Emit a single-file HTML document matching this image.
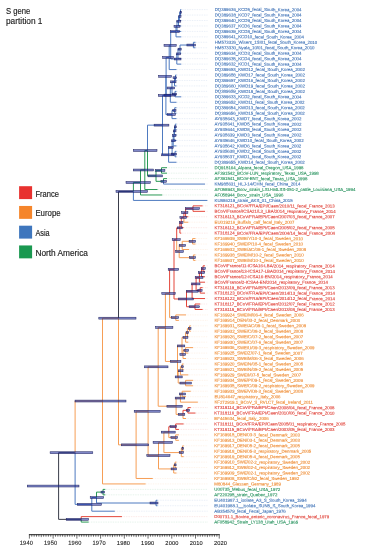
<!DOCTYPE html>
<html lang="en"><head><meta charset="utf-8"><title>S gene partition 1</title>
<style>
html,body{margin:0;padding:0;background:#fff}
body{width:374px;height:550px;overflow:hidden}
svg{display:block;font-family:"Liberation Sans",sans-serif}
</style></head><body>
<svg width="374" height="550" viewBox="0 0 374 550">
<rect width="374" height="550" fill="#fff"/>
<text x="6" y="13.7" font-size="8.3" textLength="24.3" lengthAdjust="spacingAndGlyphs" fill="#222" stroke="#222" stroke-width="0.15">S gene</text>
<text x="6" y="24.3" font-size="8.3" fill="#222" stroke="#222" stroke-width="0.15">partition 1</text>
<g><rect x="19.1" y="186.20" width="13" height="12.9" fill="#e8312f"/><text x="35.4" y="196.60" font-size="8.2" textLength="23.6" lengthAdjust="spacingAndGlyphs" fill="#222" stroke="#222" stroke-width="0.15">France</text><rect x="19.1" y="205.95" width="13" height="12.9" fill="#f5852b"/><text x="35.4" y="216.35" font-size="8.2" textLength="25.3" lengthAdjust="spacingAndGlyphs" fill="#222" stroke="#222" stroke-width="0.15">Europe</text><rect x="19.1" y="225.70" width="13" height="12.9" fill="#3e76bd"/><text x="35.4" y="236.10" font-size="8.2" textLength="14.3" lengthAdjust="spacingAndGlyphs" fill="#222" stroke="#222" stroke-width="0.15">Asia</text><rect x="19.1" y="245.45" width="13" height="12.9" fill="#1a9850"/><text x="35.4" y="255.85" font-size="8.2" textLength="52.6" lengthAdjust="spacingAndGlyphs" fill="#222" stroke="#222" stroke-width="0.15">North America</text></g>
<g fill="none" stroke-width="0.6" stroke-dasharray="0.8 0.9" opacity="0.24"><path d="M181.87 9.60H207.8" stroke="#4e7ac0"/><path d="M181.87 15.05H207.8" stroke="#4e7ac0"/><path d="M181.87 20.51H207.8" stroke="#4e7ac0"/><path d="M181.87 25.96H207.8" stroke="#4e7ac0"/><path d="M181.87 31.41H207.8" stroke="#4e7ac0"/><path d="M181.87 36.86H207.8" stroke="#4e7ac0"/><path d="M196.11 42.31H207.8" stroke="#4e7ac0"/><path d="M196.11 47.77H207.8" stroke="#4e7ac0"/><path d="M181.87 53.22H207.8" stroke="#4e7ac0"/><path d="M181.87 58.67H207.8" stroke="#4e7ac0"/><path d="M181.87 64.12H207.8" stroke="#4e7ac0"/><path d="M177.13 69.57H207.8" stroke="#4e7ac0"/><path d="M177.13 75.03H207.8" stroke="#4e7ac0"/><path d="M177.13 80.48H207.8" stroke="#4e7ac0"/><path d="M177.13 85.93H207.8" stroke="#4e7ac0"/><path d="M177.13 91.38H207.8" stroke="#4e7ac0"/><path d="M181.87 96.83H207.8" stroke="#4e7ac0"/><path d="M177.13 102.29H207.8" stroke="#4e7ac0"/><path d="M177.13 107.74H207.8" stroke="#4e7ac0"/><path d="M177.13 113.19H207.8" stroke="#4e7ac0"/><path d="M177.13 118.64H207.8" stroke="#4e7ac0"/><path d="M177.13 124.09H207.8" stroke="#4e7ac0"/><path d="M177.13 129.55H207.8" stroke="#4e7ac0"/><path d="M177.13 135.00H207.8" stroke="#4e7ac0"/><path d="M177.13 140.45H207.8" stroke="#4e7ac0"/><path d="M177.13 145.90H207.8" stroke="#4e7ac0"/><path d="M177.13 151.35H207.8" stroke="#4e7ac0"/><path d="M177.13 156.81H207.8" stroke="#4e7ac0"/><path d="M177.13 162.26H207.8" stroke="#4e7ac0"/><path d="M167.63 167.71H207.8" stroke="#2a9a55"/><path d="M167.63 173.16H207.8" stroke="#2a9a55"/><path d="M167.63 178.61H207.8" stroke="#2a9a55"/><path d="M205.60 184.07H207.8" stroke="#4e7ac0"/><path d="M158.14 189.52H207.8" stroke="#2a9a55"/><path d="M162.89 194.97H207.8" stroke="#2a9a55"/><path d="M207.98 200.42H207.8" stroke="#4e7ac0"/><path d="M203.23 205.87H207.8" stroke="#e4463a"/><path d="M205.60 211.33H207.8" stroke="#e4463a"/><path d="M188.99 216.78H207.8" stroke="#e4463a"/><path d="M188.99 222.23H207.8" stroke="#f69e56"/><path d="M184.25 227.68H207.8" stroke="#e4463a"/><path d="M181.87 233.13H207.8" stroke="#e4463a"/><path d="M196.11 238.59H207.8" stroke="#f69e56"/><path d="M196.11 244.04H207.8" stroke="#f69e56"/><path d="M189.70 249.49H207.8" stroke="#f69e56"/><path d="M196.11 254.94H207.8" stroke="#f69e56"/><path d="M196.11 260.39H207.8" stroke="#f69e56"/><path d="M205.60 265.85H207.8" stroke="#e4463a"/><path d="M205.60 271.30H207.8" stroke="#e4463a"/><path d="M205.60 276.75H207.8" stroke="#e4463a"/><path d="M205.60 282.20H207.8" stroke="#e4463a"/><path d="M203.23 287.65H207.8" stroke="#e4463a"/><path d="M205.60 293.11H207.8" stroke="#e4463a"/><path d="M205.60 298.56H207.8" stroke="#e4463a"/><path d="M200.86 304.01H207.8" stroke="#e4463a"/><path d="M203.23 309.46H207.8" stroke="#e4463a"/><path d="M186.62 314.91H207.8" stroke="#f69e56"/><path d="M179.50 320.37H207.8" stroke="#f69e56"/><path d="M191.36 325.82H207.8" stroke="#f69e56"/><path d="M191.36 331.27H207.8" stroke="#f69e56"/><path d="M188.99 336.72H207.8" stroke="#f69e56"/><path d="M188.99 342.17H207.8" stroke="#f69e56"/><path d="M193.74 347.63H207.8" stroke="#f69e56"/><path d="M188.99 353.08H207.8" stroke="#f69e56"/><path d="M186.62 358.53H207.8" stroke="#f69e56"/><path d="M184.25 363.98H207.8" stroke="#f69e56"/><path d="M184.25 369.43H207.8" stroke="#f69e56"/><path d="M188.99 374.89H207.8" stroke="#f69e56"/><path d="M193.74 380.34H207.8" stroke="#f69e56"/><path d="M193.74 385.79H207.8" stroke="#f69e56"/><path d="M191.36 391.24H207.8" stroke="#f69e56"/><path d="M186.62 396.69H207.8" stroke="#f69e56"/><path d="M198.48 402.15H207.8" stroke="#f69e56"/><path d="M191.36 407.60H207.8" stroke="#e4463a"/><path d="M196.11 413.05H207.8" stroke="#e4463a"/><path d="M186.62 418.50H207.8" stroke="#f69e56"/><path d="M184.25 423.95H207.8" stroke="#e4463a"/><path d="M179.50 429.41H207.8" stroke="#e4463a"/><path d="M179.50 434.86H207.8" stroke="#f69e56"/><path d="M179.50 440.31H207.8" stroke="#f69e56"/><path d="M184.25 445.76H207.8" stroke="#f69e56"/><path d="M184.25 451.21H207.8" stroke="#f69e56"/><path d="M184.25 456.67H207.8" stroke="#f69e56"/><path d="M177.13 462.12H207.8" stroke="#f69e56"/><path d="M177.13 467.57H207.8" stroke="#f69e56"/><path d="M177.13 473.02H207.8" stroke="#f69e56"/><path d="M153.40 478.47H207.8" stroke="#f69e56"/><path d="M146.28 483.93H207.8" stroke="#f69e56"/><path d="M105.94 489.38H207.8" stroke="#2a9a55"/><path d="M105.94 494.83H207.8" stroke="#2a9a55"/><path d="M158.14 500.28H207.8" stroke="#4e7ac0"/><path d="M158.14 505.73H207.8" stroke="#4e7ac0"/><path d="M115.43 511.19H207.8" stroke="#4e7ac0"/><path d="M122.55 516.64H207.8" stroke="#e4463a"/><path d="M89.32 522.09H207.8" stroke="#2a9a55"/></g>
<g fill="none" stroke-width="1.0" stroke-linejoin="miter"><path d="M58.60 486.04V452.71H75.10" stroke="#3a3d4a"/><path d="M75.10 452.71V401.04H102.50" stroke="#f69e56"/><path d="M102.50 401.04V318.16H118.50" stroke="#f69e56"/><path d="M118.50 318.16V191.46H133.40" stroke="#3a3d4a"/><path d="M133.40 191.46V182.49H140.50" stroke="#2a9a55"/><path d="M140.50 182.49V170.01H144.80" stroke="#2a9a55"/><path d="M144.80 170.01V150.51H147.50" stroke="#2a9a55"/><path d="M147.50 150.51V125.13H162.50" stroke="#4e7ac0"/><path d="M162.50 125.13V95.42H165.90" stroke="#4e7ac0"/><path d="M165.90 95.42V76.28H166.10" stroke="#4e7ac0"/><path d="M166.10 76.28V57.43H169.20" stroke="#4e7ac0"/><path d="M169.20 57.43V45.30H170.70" stroke="#4e7ac0"/><path d="M170.70 45.30V31.58H176.00" stroke="#4e7ac0"/><path d="M176.00 31.58V26.30H177.00" stroke="#4e7ac0"/><path d="M177.00 26.30V21.19H178.50" stroke="#4e7ac0"/><path d="M178.50 21.19V16.42H179.60" stroke="#4e7ac0"/><path d="M179.60 16.42V12.33H180.50" stroke="#4e7ac0"/><path d="M180.50 12.33V9.60H181.27" stroke="#4e7ac0"/><path d="M180.50 12.33V15.05H181.27" stroke="#4e7ac0"/><path d="M179.60 16.42V20.51H181.27" stroke="#4e7ac0"/><path d="M178.50 21.19V25.96H181.27" stroke="#4e7ac0"/><path d="M177.00 26.30V31.41H181.27" stroke="#4e7ac0"/><path d="M176.00 31.58V36.86H181.27" stroke="#4e7ac0"/><path d="M170.70 45.30V59.01H176.80" stroke="#4e7ac0"/><path d="M176.80 59.01V53.90H178.00" stroke="#4e7ac0"/><path d="M178.00 53.90V49.13H180.00" stroke="#4e7ac0"/><path d="M180.00 49.13V45.04H193.40" stroke="#4e7ac0"/><path d="M193.40 45.04V42.31H195.51" stroke="#4e7ac0"/><path d="M193.40 45.04V47.77H195.51" stroke="#4e7ac0"/><path d="M180.00 49.13V53.22H181.27" stroke="#4e7ac0"/><path d="M178.00 53.90V58.67H181.27" stroke="#4e7ac0"/><path d="M176.80 59.01V64.12H181.27" stroke="#4e7ac0"/><path d="M169.20 57.43V69.57H176.53" stroke="#4e7ac0"/><path d="M166.10 76.28V95.13H170.30" stroke="#4e7ac0"/><path d="M170.30 95.13V87.97H172.00" stroke="#4e7ac0"/><path d="M172.00 87.97V81.84H174.50" stroke="#4e7ac0"/><path d="M174.50 81.84V77.75H175.50" stroke="#4e7ac0"/><path d="M175.50 77.75V75.03H176.53" stroke="#4e7ac0"/><path d="M175.50 77.75V80.48H176.53" stroke="#4e7ac0"/><path d="M174.50 81.84V85.93H176.53" stroke="#4e7ac0"/><path d="M172.00 87.97V94.11H175.00" stroke="#4e7ac0"/><path d="M175.00 94.11V91.38H176.53" stroke="#4e7ac0"/><path d="M175.00 94.11V96.83H181.27" stroke="#4e7ac0"/><path d="M170.30 95.13V102.29H176.53" stroke="#4e7ac0"/><path d="M165.90 95.42V114.55H172.00" stroke="#4e7ac0"/><path d="M172.00 114.55V110.46H174.70" stroke="#4e7ac0"/><path d="M174.70 110.46V107.74H176.53" stroke="#4e7ac0"/><path d="M174.70 110.46V113.19H176.53" stroke="#4e7ac0"/><path d="M172.00 114.55V118.64H176.53" stroke="#4e7ac0"/><path d="M162.50 125.13V154.85H168.60" stroke="#4e7ac0"/><path d="M168.60 154.85V147.44H172.10" stroke="#4e7ac0"/><path d="M172.10 147.44V140.79H173.20" stroke="#4e7ac0"/><path d="M173.20 140.79V135.68H174.00" stroke="#4e7ac0"/><path d="M174.00 135.68V130.91H174.50" stroke="#4e7ac0"/><path d="M174.50 130.91V126.82H175.30" stroke="#4e7ac0"/><path d="M175.30 126.82V124.09H176.53" stroke="#4e7ac0"/><path d="M175.30 126.82V129.55H176.53" stroke="#4e7ac0"/><path d="M174.50 130.91V135.00H176.53" stroke="#4e7ac0"/><path d="M174.00 135.68V140.45H176.53" stroke="#4e7ac0"/><path d="M173.20 140.79V145.90H176.53" stroke="#4e7ac0"/><path d="M172.10 147.44V154.08H175.00" stroke="#4e7ac0"/><path d="M175.00 154.08V151.35H176.53" stroke="#4e7ac0"/><path d="M175.00 154.08V156.81H176.53" stroke="#4e7ac0"/><path d="M168.60 154.85V162.26H176.53" stroke="#4e7ac0"/><path d="M147.50 150.51V175.89H156.00" stroke="#2a9a55"/><path d="M156.00 175.89V170.44H161.50" stroke="#2a9a55"/><path d="M161.50 170.44V167.71H167.03" stroke="#2a9a55"/><path d="M161.50 170.44V173.16H167.03" stroke="#2a9a55"/><path d="M156.00 175.89V181.34H163.50" stroke="#2a9a55"/><path d="M163.50 181.34V178.61H167.03" stroke="#2a9a55"/><path d="M163.50 181.34V184.07H205.00" stroke="#4e7ac0"/><path d="M144.80 170.01V189.52H157.54" stroke="#2a9a55"/><path d="M140.50 182.49V194.97H162.29" stroke="#2a9a55"/><path d="M133.40 191.46V200.42H207.38" stroke="#4e7ac0"/><path d="M118.50 318.16V444.86H136.10" stroke="#f69e56"/><path d="M136.10 444.86V411.25H148.10" stroke="#f69e56"/><path d="M148.10 411.25V366.85H158.20" stroke="#f69e56"/><path d="M158.20 366.85V327.46H165.40" stroke="#f69e56"/><path d="M165.40 327.46V293.49H169.60" stroke="#f69e56"/><path d="M169.60 293.49V269.34H174.00" stroke="#e4463a"/><path d="M174.00 269.34V239.69H176.70" stroke="#e4463a"/><path d="M176.70 239.69V227.85H179.90" stroke="#e4463a"/><path d="M179.90 227.85V222.57H181.30" stroke="#e4463a"/><path d="M181.30 222.57V217.46H183.90" stroke="#e4463a"/><path d="M183.90 217.46V212.69H185.60" stroke="#e4463a"/><path d="M185.60 212.69V208.60H193.00" stroke="#e4463a"/><path d="M193.00 208.60V205.87H202.63" stroke="#e4463a"/><path d="M193.00 208.60V211.33H205.00" stroke="#e4463a"/><path d="M185.60 212.69V216.78H188.39" stroke="#e4463a"/><path d="M183.90 217.46V222.23H188.39" stroke="#f69e56"/><path d="M181.30 222.57V227.68H183.65" stroke="#e4463a"/><path d="M179.90 227.85V233.13H181.27" stroke="#e4463a"/><path d="M176.70 239.69V251.53H179.20" stroke="#f69e56"/><path d="M179.20 251.53V245.40H182.20" stroke="#f69e56"/><path d="M182.20 245.40V241.31H192.60" stroke="#f69e56"/><path d="M192.60 241.31V238.59H195.51" stroke="#f69e56"/><path d="M192.60 241.31V244.04H195.51" stroke="#f69e56"/><path d="M182.20 245.40V249.49H189.10" stroke="#f69e56"/><path d="M179.20 251.53V257.67H193.40" stroke="#f69e56"/><path d="M193.40 257.67V254.94H195.51" stroke="#f69e56"/><path d="M193.40 257.67V260.39H195.51" stroke="#f69e56"/><path d="M174.00 269.34V298.98H186.50" stroke="#e4463a"/><path d="M186.50 298.98V291.23H192.10" stroke="#e4463a"/><path d="M192.10 291.23V283.91H196.10" stroke="#e4463a"/><path d="M196.10 283.91V277.43H199.40" stroke="#e4463a"/><path d="M199.40 277.43V272.66H201.50" stroke="#e4463a"/><path d="M201.50 272.66V268.57H203.00" stroke="#e4463a"/><path d="M203.00 268.57V265.85H205.00" stroke="#e4463a"/><path d="M203.00 268.57V271.30H205.00" stroke="#e4463a"/><path d="M201.50 272.66V276.75H205.00" stroke="#e4463a"/><path d="M199.40 277.43V282.20H205.00" stroke="#e4463a"/><path d="M196.10 283.91V290.38H200.20" stroke="#e4463a"/><path d="M200.20 290.38V287.65H202.63" stroke="#e4463a"/><path d="M200.20 290.38V293.11H205.00" stroke="#e4463a"/><path d="M192.10 291.23V298.56H205.00" stroke="#e4463a"/><path d="M186.50 298.98V306.74H195.00" stroke="#e4463a"/><path d="M195.00 306.74V304.01H200.26" stroke="#e4463a"/><path d="M195.00 306.74V309.46H202.63" stroke="#e4463a"/><path d="M169.60 293.49V317.64H175.80" stroke="#f69e56"/><path d="M175.80 317.64V314.91H186.02" stroke="#f69e56"/><path d="M175.80 317.64V320.37H178.90" stroke="#f69e56"/><path d="M165.40 327.46V361.43H177.50" stroke="#f69e56"/><path d="M177.50 361.43V345.92H182.00" stroke="#f69e56"/><path d="M182.00 345.92V337.40H185.60" stroke="#f69e56"/><path d="M185.60 337.40V332.63H187.40" stroke="#f69e56"/><path d="M187.40 332.63V328.54H189.60" stroke="#f69e56"/><path d="M189.60 328.54V325.82H190.76" stroke="#f69e56"/><path d="M189.60 328.54V331.27H190.76" stroke="#f69e56"/><path d="M187.40 332.63V336.72H188.39" stroke="#f69e56"/><path d="M185.60 337.40V342.17H188.39" stroke="#f69e56"/><path d="M182.00 345.92V354.44H183.00" stroke="#f69e56"/><path d="M183.00 354.44V350.35H185.60" stroke="#f69e56"/><path d="M185.60 350.35V347.63H193.14" stroke="#f69e56"/><path d="M185.60 350.35V353.08H188.39" stroke="#f69e56"/><path d="M183.00 354.44V358.53H186.02" stroke="#f69e56"/><path d="M177.50 361.43V376.93H178.20" stroke="#f69e56"/><path d="M178.20 376.93V370.80H180.40" stroke="#f69e56"/><path d="M180.40 370.80V366.71H182.20" stroke="#f69e56"/><path d="M182.20 366.71V363.98H183.65" stroke="#f69e56"/><path d="M182.20 366.71V369.43H183.65" stroke="#f69e56"/><path d="M180.40 370.80V374.89H188.39" stroke="#f69e56"/><path d="M178.20 376.93V383.06H185.60" stroke="#f69e56"/><path d="M185.60 383.06V380.34H193.14" stroke="#f69e56"/><path d="M185.60 383.06V385.79H193.14" stroke="#f69e56"/><path d="M158.20 366.85V406.23H176.10" stroke="#f69e56"/><path d="M176.10 406.23V398.06H180.40" stroke="#f69e56"/><path d="M180.40 398.06V393.97H182.20" stroke="#f69e56"/><path d="M182.20 393.97V391.24H190.76" stroke="#f69e56"/><path d="M182.20 393.97V396.69H186.02" stroke="#f69e56"/><path d="M180.40 398.06V402.15H197.88" stroke="#f69e56"/><path d="M176.10 406.23V414.41H183.00" stroke="#f69e56"/><path d="M183.00 414.41V410.32H187.90" stroke="#e4463a"/><path d="M187.90 410.32V407.60H190.76" stroke="#e4463a"/><path d="M187.90 410.32V413.05H195.51" stroke="#e4463a"/><path d="M183.00 414.41V418.50H186.02" stroke="#f69e56"/><path d="M148.10 411.25V455.64H158.50" stroke="#f69e56"/><path d="M158.50 455.64V442.35H163.90" stroke="#f69e56"/><path d="M163.90 442.35V432.13H168.80" stroke="#f69e56"/><path d="M168.80 432.13V426.68H175.70" stroke="#e4463a"/><path d="M175.70 426.68V423.95H183.65" stroke="#e4463a"/><path d="M175.70 426.68V429.41H178.90" stroke="#e4463a"/><path d="M168.80 432.13V437.58H175.70" stroke="#f69e56"/><path d="M175.70 437.58V434.86H178.90" stroke="#f69e56"/><path d="M175.70 437.58V440.31H178.90" stroke="#f69e56"/><path d="M163.90 442.35V452.58H181.30" stroke="#f69e56"/><path d="M181.30 452.58V448.49H182.70" stroke="#f69e56"/><path d="M182.70 448.49V445.76H183.65" stroke="#f69e56"/><path d="M182.70 448.49V451.21H183.65" stroke="#f69e56"/><path d="M181.30 452.58V456.67H183.65" stroke="#f69e56"/><path d="M158.50 455.64V468.93H173.70" stroke="#f69e56"/><path d="M173.70 468.93V464.84H175.10" stroke="#f69e56"/><path d="M175.10 464.84V462.12H176.53" stroke="#f69e56"/><path d="M175.10 464.84V467.57H176.53" stroke="#f69e56"/><path d="M173.70 468.93V473.02H176.53" stroke="#f69e56"/><path d="M136.10 444.86V478.47H152.80" stroke="#f69e56"/><path d="M102.50 401.04V483.93H145.68" stroke="#f69e56"/><path d="M75.10 452.71V504.37H91.80" stroke="#4e7ac0"/><path d="M91.80 504.37V497.56H96.50" stroke="#4e7ac0"/><path d="M96.50 497.56V492.10H103.00" stroke="#2a9a55"/><path d="M103.00 492.10V489.38H105.34" stroke="#2a9a55"/><path d="M103.00 492.10V494.83H105.34" stroke="#2a9a55"/><path d="M96.50 497.56V503.01H156.00" stroke="#4e7ac0"/><path d="M156.00 503.01V500.28H157.54" stroke="#4e7ac0"/><path d="M156.00 503.01V505.73H157.54" stroke="#4e7ac0"/><path d="M91.80 504.37V511.19H114.83" stroke="#4e7ac0"/><path d="M58.60 486.04V519.36H81.20" stroke="#3a3d4a"/><path d="M81.20 519.36V516.64H121.95" stroke="#e4463a"/><path d="M81.20 519.36V522.09H88.72" stroke="#2a9a55"/></g>
<g fill="#18279b" fill-opacity="0.55" stroke="#1c1f5c" stroke-width="0.5"><rect x="180.00" y="11.38" width="1.60" height="1.9"/><rect x="178.80" y="15.47" width="2.20" height="1.9"/><rect x="176.80" y="20.24" width="4.00" height="1.9"/><rect x="174.00" y="25.35" width="6.00" height="1.9"/><rect x="170.40" y="30.63" width="9.20" height="1.9"/><rect x="186.90" y="44.09" width="8.60" height="1.9"/><rect x="178.00" y="48.18" width="3.20" height="1.9"/><rect x="176.60" y="52.95" width="4.00" height="1.9"/><rect x="174.30" y="58.06" width="6.70" height="1.9"/><rect x="164.00" y="44.35" width="12.20" height="1.9"/><rect x="162.70" y="56.48" width="10.70" height="1.9"/><rect x="173.00" y="76.80" width="3.70" height="1.9"/><rect x="170.70" y="80.89" width="5.30" height="1.9"/><rect x="172.50" y="93.16" width="4.20" height="1.9"/><rect x="167.10" y="87.02" width="7.60" height="1.9"/><rect x="164.00" y="94.18" width="11.50" height="1.9"/><rect x="158.70" y="75.33" width="12.70" height="1.9"/><rect x="172.80" y="109.51" width="3.20" height="1.9"/><rect x="167.10" y="113.60" width="8.30" height="1.9"/><rect x="158.30" y="94.47" width="12.70" height="1.9"/><rect x="174.50" y="125.87" width="1.80" height="1.9"/><rect x="173.40" y="129.96" width="2.60" height="1.9"/><rect x="172.40" y="134.73" width="3.60" height="1.9"/><rect x="171.30" y="139.84" width="4.30" height="1.9"/><rect x="171.30" y="153.13" width="5.30" height="1.9"/><rect x="168.60" y="146.49" width="4.60" height="1.9"/><rect x="161.70" y="153.90" width="12.30" height="1.9"/><rect x="154.10" y="124.18" width="14.80" height="1.9"/><rect x="155.20" y="169.49" width="9.70" height="1.9"/><rect x="160.90" y="180.39" width="5.60" height="1.9"/><rect x="148.00" y="174.94" width="14.50" height="1.9"/><rect x="133.30" y="149.56" width="23.70" height="1.9"/><rect x="133.30" y="169.06" width="20.20" height="1.9"/><rect x="126.00" y="181.54" width="24.30" height="1.9"/><rect x="116.00" y="190.51" width="31.60" height="1.9"/><rect x="185.60" y="207.65" width="13.90" height="1.9"/><rect x="181.60" y="211.74" width="6.30" height="1.9"/><rect x="179.90" y="216.51" width="6.60" height="1.9"/><rect x="179.50" y="221.62" width="3.50" height="1.9"/><rect x="177.50" y="226.90" width="4.70" height="1.9"/><rect x="189.10" y="240.36" width="6.40" height="1.9"/><rect x="179.20" y="244.45" width="6.40" height="1.9"/><rect x="189.60" y="256.72" width="5.90" height="1.9"/><rect x="175.70" y="250.58" width="7.70" height="1.9"/><rect x="172.20" y="238.74" width="8.00" height="1.9"/><rect x="201.30" y="267.62" width="4.00" height="1.9"/><rect x="198.30" y="271.71" width="6.40" height="1.9"/><rect x="195.20" y="276.48" width="7.80" height="1.9"/><rect x="197.80" y="289.43" width="4.30" height="1.9"/><rect x="191.70" y="282.96" width="8.30" height="1.9"/><rect x="186.70" y="290.28" width="11.40" height="1.9"/><rect x="189.10" y="305.79" width="10.40" height="1.9"/><rect x="178.70" y="298.03" width="14.70" height="1.9"/><rect x="168.20" y="268.39" width="10.50" height="1.9"/><rect x="171.20" y="316.69" width="7.50" height="1.9"/><rect x="161.80" y="292.54" width="13.40" height="1.9"/><rect x="188.50" y="327.59" width="2.50" height="1.9"/><rect x="186.10" y="331.68" width="2.50" height="1.9"/><rect x="183.00" y="336.45" width="4.90" height="1.9"/><rect x="183.90" y="349.40" width="4.70" height="1.9"/><rect x="179.90" y="353.49" width="5.70" height="1.9"/><rect x="177.50" y="344.97" width="7.30" height="1.9"/><rect x="181.30" y="365.76" width="2.10" height="1.9"/><rect x="178.70" y="369.85" width="4.30" height="1.9"/><rect x="179.90" y="382.11" width="11.50" height="1.9"/><rect x="175.20" y="375.98" width="7.00" height="1.9"/><rect x="170.50" y="360.48" width="10.40" height="1.9"/><rect x="155.60" y="326.51" width="17.30" height="1.9"/><rect x="179.50" y="393.02" width="6.10" height="1.9"/><rect x="175.20" y="397.11" width="9.60" height="1.9"/><rect x="186.30" y="409.37" width="3.30" height="1.9"/><rect x="178.20" y="413.46" width="6.60" height="1.9"/><rect x="166.90" y="405.28" width="15.30" height="1.9"/><rect x="144.60" y="365.90" width="23.40" height="1.9"/><rect x="170.00" y="425.73" width="6.40" height="1.9"/><rect x="170.90" y="436.63" width="6.60" height="1.9"/><rect x="161.30" y="431.18" width="13.90" height="1.9"/><rect x="181.90" y="447.54" width="1.70" height="1.9"/><rect x="179.20" y="451.63" width="4.20" height="1.9"/><rect x="153.10" y="441.40" width="19.50" height="1.9"/><rect x="174.40" y="463.89" width="1.70" height="1.9"/><rect x="171.10" y="467.98" width="5.40" height="1.9"/><rect x="146.80" y="454.69" width="23.20" height="1.9"/><rect x="134.20" y="410.30" width="26.00" height="1.9"/><rect x="121.40" y="443.91" width="27.30" height="1.9"/><rect x="98.80" y="317.21" width="37.20" height="1.9"/><rect x="75.00" y="400.09" width="51.00" height="1.9"/><rect x="101.00" y="491.15" width="3.60" height="1.9"/><rect x="150.00" y="502.06" width="8.00" height="1.9"/><rect x="90.20" y="496.61" width="13.50" height="1.9"/><rect x="77.40" y="503.42" width="24.00" height="1.9"/><rect x="50.10" y="451.76" width="42.70" height="1.9"/><rect x="66.20" y="518.41" width="22.40" height="1.9"/><rect x="27.30" y="485.09" width="51.70" height="1.9"/></g>
<g font-size="4.37" transform="rotate(0.05 290 266)" text-rendering="geometricPrecision" stroke-width="0.1"><text x="214.5" y="11.15" fill="#3c70b6" stroke="#3c70b6">DQ389636_KCD5_fecal_South_Korea_2004</text><text x="214.5" y="16.60" fill="#3c70b6" stroke="#3c70b6">DQ389638_KCD7_fecal_South_Korea_2004</text><text x="214.5" y="22.06" fill="#3c70b6" stroke="#3c70b6">DQ389640_KCD9_fecal_South_Korea_2004</text><text x="214.5" y="27.51" fill="#3c70b6" stroke="#3c70b6">DQ389637_KCD6_fecal_South_Korea_2004</text><text x="214.5" y="32.96" fill="#3c70b6" stroke="#3c70b6">DQ389639_KCD8_fecal_South_Korea_2004</text><text x="214.5" y="38.41" fill="#3c70b6" stroke="#3c70b6">DQ389641_KCD10_fecal_South_Korea_2004</text><text x="214.5" y="43.86" fill="#3c70b6" stroke="#3c70b6">HM573326_Wisent_1SI01_fecal_South_Korea_2010</text><text x="214.5" y="49.32" fill="#3c70b6" stroke="#3c70b6">HM573330_Nyala_10/01_fecal_South_Korea_2010</text><text x="214.5" y="54.77" fill="#3c70b6" stroke="#3c70b6">DQ389634_KCD3_fecal_South_Korea_2004</text><text x="214.5" y="60.22" fill="#3c70b6" stroke="#3c70b6">DQ389635_KCD4_fecal_South_Korea_2004</text><text x="214.5" y="65.67" fill="#3c70b6" stroke="#3c70b6">DQ389632_KCD1_fecal_South_Korea_2004</text><text x="214.5" y="71.12" fill="#3c70b6" stroke="#3c70b6">DQ389653_KWD12_fecal_South_Korea_2002</text><text x="214.5" y="76.58" fill="#3c70b6" stroke="#3c70b6">DQ389658_KWD17_fecal_South_Korea_2002</text><text x="214.5" y="82.03" fill="#3c70b6" stroke="#3c70b6">DQ389657_KWD16_fecal_South_Korea_2002</text><text x="214.5" y="87.48" fill="#3c70b6" stroke="#3c70b6">DQ389660_KWD19_fecal_South_Korea_2002</text><text x="214.5" y="92.93" fill="#3c70b6" stroke="#3c70b6">DQ389659_KWD18_fecal_South_Korea_2002</text><text x="214.5" y="98.38" fill="#3c70b6" stroke="#3c70b6">DQ389633_KCD2_fecal_South_Korea_2004</text><text x="214.5" y="103.84" fill="#3c70b6" stroke="#3c70b6">DQ389652_KWD11_fecal_South_Korea_2002</text><text x="214.5" y="109.29" fill="#3c70b6" stroke="#3c70b6">DQ389654_KWD13_fecal_South_Korea_2002</text><text x="214.5" y="114.74" fill="#3c70b6" stroke="#3c70b6">DQ389656_KWD15_fecal_South_Korea_2002</text><text x="214.5" y="120.19" fill="#3c70b6" stroke="#3c70b6">AY935643_KWD7_fecal_South_Korea_2002</text><text x="214.5" y="125.64" fill="#3c70b6" stroke="#3c70b6">AY935641_KWD5_fecal_South_Korea_2002</text><text x="214.5" y="131.10" fill="#3c70b6" stroke="#3c70b6">AY935644_KWD8_fecal_South_Korea_2002</text><text x="214.5" y="136.55" fill="#3c70b6" stroke="#3c70b6">AY935639_KWD3_fecal_South_Korea_2002</text><text x="214.5" y="142.00" fill="#3c70b6" stroke="#3c70b6">AY935646_KWD10_fecal_South_Korea_2002</text><text x="214.5" y="147.45" fill="#3c70b6" stroke="#3c70b6">AY935642_KWD6_fecal_South_Korea_2002</text><text x="214.5" y="152.90" fill="#3c70b6" stroke="#3c70b6">AY935638_KWD2_fecal_South_Korea_2002</text><text x="214.5" y="158.36" fill="#3c70b6" stroke="#3c70b6">AY935637_KWD1_fecal_South_Korea_2002</text><text x="214.5" y="163.81" fill="#3c70b6" stroke="#3c70b6">DQ389655_KWD14_fecal_South_Korea_2002</text><text x="214.5" y="169.26" fill="#22905a" stroke="#22905a">DQ915164_Alpaca_fecal_Oregon_USA_1998</text><text x="214.5" y="174.71" fill="#22905a" stroke="#22905a">AF391542_BCoV-LUN_respiratory_Texas_USA_1998</text><text x="214.5" y="180.16" fill="#22905a" stroke="#22905a">AF391541_BCoV-ENT_fecal_Texas_USA_1998</text><text x="214.5" y="185.62" fill="#3c70b6" stroke="#3c70b6">KM985631_HLJ-14/CHN_fecal_China_2014</text><text x="214.5" y="191.07" fill="#22905a" stroke="#22905a">AF058943_Bcov_strain_LSU-94LSS-051-2_cattle_Louisiana_USA_1994</text><text x="214.5" y="196.52" fill="#22905a" stroke="#22905a">AF058944_Bcov_strain_USA_1996</text><text x="214.5" y="201.97" fill="#3c70b6" stroke="#3c70b6">KU886219_strain_AKS_01_China_2015</text><text x="214.5" y="207.42" fill="#df3a30" stroke="#df3a30">KT318121_BCoV/FRA/EPI/Caen/2010/11_fecal_France_2013</text><text x="214.5" y="212.88" fill="#df3a30" stroke="#df3a30">BCoV/France/ICSA21/L3_LBA/2014_respiratory_France_2014</text><text x="214.5" y="218.33" fill="#df3a30" stroke="#df3a30">KT318113_BCoV/FRA/EPI/Caen/2007/03_fecal_France_2007</text><text x="214.5" y="223.78" fill="#ee8a30" stroke="#ee8a30">EU019216_Buffalo_calf_fecal_Italy_2007</text><text x="214.5" y="229.23" fill="#df3a30" stroke="#df3a30">KT318112_BCoV/FRA/EPI/Caen/2005/02_fecal_France_2005</text><text x="214.5" y="234.68" fill="#df3a30" stroke="#df3a30">KT318124_BCoV/FRA/EPI/Caen/2004/14_fecal_France_2004</text><text x="214.5" y="240.14" fill="#ee8a30" stroke="#ee8a30">KF169939_SWE/Y/10-3_fecal_Sweden_2010</text><text x="214.5" y="245.59" fill="#ee8a30" stroke="#ee8a30">KF169940_SWE/P/10-4_fecal_Sweden_2010</text><text x="214.5" y="251.04" fill="#ee8a30" stroke="#ee8a30">KF169932_SWE/AC/08-1_fecal_Sweden_2008</text><text x="214.5" y="256.49" fill="#ee8a30" stroke="#ee8a30">KF169938_SWE/M/10-2_fecal_Sweden_2010</text><text x="214.5" y="261.94" fill="#ee8a30" stroke="#ee8a30">KF169937_SWE/M/10-1_fecal_Sweden_2010</text><text x="214.5" y="267.40" fill="#df3a30" stroke="#df3a30">BCoV/France/11-ICSA16-LBA/2014_respiratory_France_2014</text><text x="214.5" y="272.85" fill="#df3a30" stroke="#df3a30">BCoV/France/13-ICSA17-LBA/2014_respiratory_France_2014</text><text x="214.5" y="278.30" fill="#df3a30" stroke="#df3a30">BCoV/France/12-ICSA16-EN/2014_respiratory_France_2014</text><text x="214.5" y="283.75" fill="#df3a30" stroke="#df3a30">BCoV/France/2-ICSA4-EN/2014_respiratory_France_2014</text><text x="214.5" y="289.20" fill="#df3a30" stroke="#df3a30">KT318119_BCoV/FRA/EPI/Caen/2013/09_fecal_France_2013</text><text x="214.5" y="294.66" fill="#df3a30" stroke="#df3a30">KT318123_BCoV/FRA/EPI/Caen/2014/13_fecal_France_2014</text><text x="214.5" y="300.11" fill="#df3a30" stroke="#df3a30">KT318122_BCoV/FRA/EPI/Caen/2014/12_fecal_France_2014</text><text x="214.5" y="305.56" fill="#df3a30" stroke="#df3a30">KT318117_BCoV/FRA/EPI/Caen/2012/07_fecal_France_2012</text><text x="214.5" y="311.01" fill="#df3a30" stroke="#df3a30">KT318118_BCoV/FRA/EPI/Caen/2013/08_fecal_France_2013</text><text x="214.5" y="316.46" fill="#ee8a30" stroke="#ee8a30">KF169924_SWE/M/06-4_fecal_Sweden_2006</text><text x="214.5" y="321.92" fill="#ee8a30" stroke="#ee8a30">KF169914_DEN/03-2_fecal_Denmark_2003</text><text x="214.5" y="327.37" fill="#ee8a30" stroke="#ee8a30">KF169931_SWE/AC/08-1_fecal_Sweden_2008</text><text x="214.5" y="332.82" fill="#ee8a30" stroke="#ee8a30">KF169932_SWE/C/08-2_fecal_Sweden_2008</text><text x="214.5" y="338.27" fill="#ee8a30" stroke="#ee8a30">KF169926_SWE/C/07-2_fecal_Sweden_2007</text><text x="214.5" y="343.72" fill="#ee8a30" stroke="#ee8a30">KF169930_SWE/C/07-6_fecal_Sweden_2007</text><text x="214.5" y="349.18" fill="#ee8a30" stroke="#ee8a30">KF169936_SWE/U/09-3_respiratory_Sweden_2009</text><text x="214.5" y="354.63" fill="#ee8a30" stroke="#ee8a30">KF169925_SWE/Z/07-1_fecal_Sweden_2007</text><text x="214.5" y="360.08" fill="#ee8a30" stroke="#ee8a30">KF169923_SWE/M/06-3_fecal_Sweden_2006</text><text x="214.5" y="365.53" fill="#ee8a30" stroke="#ee8a30">KF169920_SWE/N/05-1_fecal_Sweden_2005</text><text x="214.5" y="370.98" fill="#ee8a30" stroke="#ee8a30">KF169921_SWE/N/05-2_fecal_Sweden_2005</text><text x="214.5" y="376.44" fill="#ee8a30" stroke="#ee8a30">KF169929_SWE/I/07-5_fecal_Sweden_2007</text><text x="214.5" y="381.89" fill="#ee8a30" stroke="#ee8a30">KF169934_SWE/P/09-1_fecal_Sweden_2009</text><text x="214.5" y="387.34" fill="#ee8a30" stroke="#ee8a30">KF169935_SWE/C/09-2_respiratory_Sweden_2009</text><text x="214.5" y="392.79" fill="#ee8a30" stroke="#ee8a30">KF169933_SWE/V/08-3_fecal_Sweden_2008</text><text x="214.5" y="398.24" fill="#ee8a30" stroke="#ee8a30">EU814647_respiratory_Italy_2006</text><text x="214.5" y="403.70" fill="#ee8a30" stroke="#ee8a30">KF272919.1_BCoV_S_RVLC7_fecal_Ireland_2011</text><text x="214.5" y="409.15" fill="#df3a30" stroke="#df3a30">KT318114_BCoV/FRA/EPI/Caen/2008/04_fecal_France_2008</text><text x="214.5" y="414.60" fill="#df3a30" stroke="#df3a30">KT318116_BCoV/FRA/EPI/Caen/2010/06_fecal_France_2010</text><text x="214.5" y="420.05" fill="#ee8a30" stroke="#ee8a30">EF445634_fecal_Italy_2006</text><text x="214.5" y="425.50" fill="#df3a30" stroke="#df3a30">KT318111_BCoV/FRA/EPI/Caen/2005/01_respiratory_France_2005</text><text x="214.5" y="430.96" fill="#df3a30" stroke="#df3a30">KT318115_BCoV/FRA/EPI/Caen/2003/05_fecal_France_2003</text><text x="214.5" y="436.41" fill="#ee8a30" stroke="#ee8a30">KF169915_DEN/03-3_fecal_Denmark_2003</text><text x="214.5" y="441.86" fill="#ee8a30" stroke="#ee8a30">KF169913_DEN/03-1_fecal_Denmark_2003</text><text x="214.5" y="447.31" fill="#ee8a30" stroke="#ee8a30">KF169917_DEN/05-2_fecal_Denmark_2005</text><text x="214.5" y="452.76" fill="#ee8a30" stroke="#ee8a30">KF169918_DEN/05-3_respiratory_Denmark_2005</text><text x="214.5" y="458.22" fill="#ee8a30" stroke="#ee8a30">KF169919_DEN/05-4_fecal_Denmark_2005</text><text x="214.5" y="463.67" fill="#ee8a30" stroke="#ee8a30">KF169910_SWE/02-2_respiratory_Sweden_2002</text><text x="214.5" y="469.12" fill="#ee8a30" stroke="#ee8a30">KF169912_SWE/02-4_respiratory_Sweden_2002</text><text x="214.5" y="474.57" fill="#ee8a30" stroke="#ee8a30">KF169909_SWE/02-1_respiratory_Sweden_2002</text><text x="214.5" y="480.02" fill="#ee8a30" stroke="#ee8a30">KF169908_SWE/C/92_fecal_Sweden_1992</text><text x="214.5" y="485.48" fill="#ee8a30" stroke="#ee8a30">M80844_Giessen_Germany_1989</text><text x="214.5" y="490.93" fill="#22905a" stroke="#22905a">U00735_Mebus_fecal_USA_1972</text><text x="214.5" y="496.38" fill="#22905a" stroke="#22905a">AF220295_strain_Quebec_1972</text><text x="214.5" y="501.83" fill="#3c70b6" stroke="#3c70b6">EU401987.1_isolate_A3_S_South_Korea_1994</text><text x="214.5" y="507.28" fill="#3c70b6" stroke="#3c70b6">EU401988.1__isolate_SUN5_S_South_Korea_1994</text><text x="214.5" y="512.74" fill="#3c70b6" stroke="#3c70b6">AB354579_fecal_Fecal_Japan_1976</text><text x="214.5" y="518.19" fill="#df3a30" stroke="#df3a30">D00731.1_Bovine_enteric_coronavirus_France_fecal_1979</text><text x="214.5" y="523.64" fill="#22905a" stroke="#22905a">AF058942_Strain_LY138_Utah_USA_1965</text></g>
<g><path d="M28.9 534.7H219.8" stroke="#111" stroke-width="0.95" fill="none"/><path d="M29.40 534.7v3.9M31.77 534.7v2.0M34.15 534.7v2.0M36.52 534.7v2.0M38.89 534.7v2.0M41.27 534.7v2.4M43.64 534.7v2.0M46.01 534.7v2.0M48.38 534.7v2.0M50.76 534.7v2.0M53.13 534.7v3.9M55.50 534.7v2.0M57.88 534.7v2.0M60.25 534.7v2.0M62.62 534.7v2.0M65.00 534.7v2.4M67.37 534.7v2.0M69.74 534.7v2.0M72.11 534.7v2.0M74.49 534.7v2.0M76.86 534.7v3.9M79.23 534.7v2.0M81.61 534.7v2.0M83.98 534.7v2.0M86.35 534.7v2.0M88.72 534.7v2.4M91.10 534.7v2.0M93.47 534.7v2.0M95.84 534.7v2.0M98.22 534.7v2.0M100.59 534.7v3.9M102.96 534.7v2.0M105.34 534.7v2.0M107.71 534.7v2.0M110.08 534.7v2.0M112.46 534.7v2.4M114.83 534.7v2.0M117.20 534.7v2.0M119.57 534.7v2.0M121.95 534.7v2.0M124.32 534.7v3.9M126.69 534.7v2.0M129.07 534.7v2.0M131.44 534.7v2.0M133.81 534.7v2.0M136.19 534.7v2.4M138.56 534.7v2.0M140.93 534.7v2.0M143.30 534.7v2.0M145.68 534.7v2.0M148.05 534.7v3.9M150.42 534.7v2.0M152.80 534.7v2.0M155.17 534.7v2.0M157.54 534.7v2.0M159.92 534.7v2.4M162.29 534.7v2.0M164.66 534.7v2.0M167.03 534.7v2.0M169.41 534.7v2.0M171.78 534.7v3.9M174.15 534.7v2.0M176.53 534.7v2.0M178.90 534.7v2.0M181.27 534.7v2.0M183.65 534.7v2.4M186.02 534.7v2.0M188.39 534.7v2.0M190.76 534.7v2.0M193.14 534.7v2.0M195.51 534.7v3.9M197.88 534.7v2.0M200.26 534.7v2.0M202.63 534.7v2.0M205.00 534.7v2.0M207.38 534.7v2.4M209.75 534.7v2.0M212.12 534.7v2.0M214.49 534.7v2.0M216.87 534.7v2.0M219.24 534.7v3.9" stroke="#111" stroke-width="0.6" fill="none"/><g transform="rotate(0.05 120 543)" font-size="5.7" letter-spacing="0.15" fill="#1a1a1a" stroke="#1a1a1a" stroke-width="0.1" text-anchor="middle" text-rendering="geometricPrecision"><text x="26.40" y="544.9">1940</text><text x="50.67" y="544.9">1950</text><text x="74.94" y="544.9">1960</text><text x="99.21" y="544.9">1970</text><text x="123.48" y="544.9">1980</text><text x="147.75" y="544.9">1990</text><text x="172.02" y="544.9">2000</text><text x="196.29" y="544.9">2010</text><text x="220.56" y="544.9">2020</text></g></g>
</svg>
</body></html>
